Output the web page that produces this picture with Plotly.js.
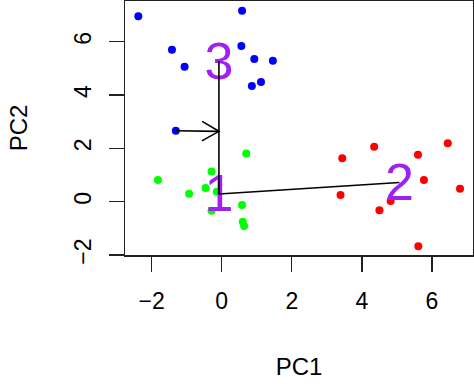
<!DOCTYPE html>
<html>
<head>
<meta charset="utf-8">
<script src="https://cdn.plot.ly/plotly-3.0.1.min.js"></script>
<style>html,body{margin:0;padding:0;background:#fff;}#chart{width:474px;height:391px;}</style>
</head>
<body>
<div id="chart"></div>
<script>
// Cluster 3 (blue)
var blueX = [-2.38, 0.58, -1.42, 0.56, 0.93, 1.46, -1.06, 0.86, 1.12, -1.31];
var blueY = [6.96, 7.16, 5.70, 5.84, 5.35, 5.29, 5.06, 4.34, 4.49, 2.66];
// Cluster 1 (green)
var greenX = [0.70, -0.29, -1.82, -0.46, -0.93, -0.14, -0.29, 0.58, 0.60, 0.64];
var greenY = [1.81, 1.13, 0.81, 0.51, 0.30, 0.37, -0.34, -0.12, -0.75, -0.91];
// Cluster 2 (red)
var redX = [6.45, 4.35, 3.44, 5.60, 5.77, 6.80, 3.39, 4.82, 4.50, 5.61];
var redY = [2.19, 2.06, 1.63, 1.76, 0.81, 0.49, 0.25, 0.03, -0.32, -1.67];
// Cluster centres and labels
var centerX = [-0.08, 5.07, -0.08];
var centerY = [0.29, 0.72, 5.27];
var centerLabels = ["1", "2", "3"];
// Arrow from a point to the segment between centres 1 and 3
var arrowFrom = [-1.31, 2.66];
var arrowTo = [-0.08, 2.64];
var xTicks = [-2, 0, 2, 4, 6];
var yTicks = [-2, 0, 2, 4, 6];

var xRange = [-2.76, 7.17], yRange = [-2.0, 7.53];
var W = 474, H = 391, mL = 125, mR = 1, mT = 1, mB = 136;
var pxX = (W - mL - mR) / (xRange[1] - xRange[0]);
var pxY = (H - mT - mB) / (yRange[1] - yRange[0]);

// open arrowhead arms (in pixel space, converted to data)
var ang = Math.atan2((arrowTo[1]-arrowFrom[1])*pxY, (arrowTo[0]-arrowFrom[0])*pxX);
var armLen = 19.5, armAng = Math.PI/6;
function arm(s){
  var a = ang + Math.PI + s*armAng;
  return [arrowTo[0] + armLen*Math.cos(a)/pxX, arrowTo[1] + armLen*Math.sin(a)/pxY];
}
var a1 = arm(1), a2 = arm(-1);
// text baseline correction: nudge labels down ~4px so glyphs centre on the centre point
var labelY = centerY.map(function(v){ return v - 4.5/pxY; });

var mk = function(c){ return {size: 8, color: c, line: {width: 0}}; };
var traces = [
  {x: blueX, y: blueY, mode: 'markers', type: 'scatter', marker: mk('#0000FF'), hoverinfo: 'none'},
  {x: greenX, y: greenY, mode: 'markers', type: 'scatter', marker: mk('#00FF00'), hoverinfo: 'none'},
  {x: redX, y: redY, mode: 'markers', type: 'scatter', marker: mk('#FF0000'), hoverinfo: 'none'},
  {x: centerX, y: labelY, mode: 'text', type: 'scatter', text: centerLabels, textposition: 'middle center',
   textfont: {family: 'Liberation Sans, Arial, sans-serif', size: 52, color: '#A020F0'}, hoverinfo: 'none'},
  {x: [centerX[0], centerX[1], null, centerX[0], centerX[2], null, arrowFrom[0], arrowTo[0], null, a1[0], arrowTo[0], a2[0]],
   y: [centerY[0], centerY[1], null, centerY[0], centerY[2], null, arrowFrom[1], arrowTo[1], null, a1[1], arrowTo[1], a2[1]],
   mode: 'lines', type: 'scatter', line: {color: '#000', width: 1.6}, hoverinfo: 'none', connectgaps: false}
];

var axFont = {family: 'Liberation Sans, Arial, sans-serif', size: 23, color: '#000'};
var titleFont = {family: 'Liberation Sans, Arial, sans-serif', size: 24, color: '#000'};
var fmt = function(v){ return v < 0 ? '\u2212' + (-v) : String(v); };
var layout = {
  width: W, height: H,
  margin: {l: mL, r: mR, t: mT, b: mB, pad: 0},
  paper_bgcolor: '#fff', plot_bgcolor: '#fff',
  showlegend: false,
  xaxis: {range: xRange, tickvals: xTicks, ticktext: xTicks.map(fmt),
          ticks: 'outside', ticklen: 15, tickwidth: 1.2, tickcolor: '#222', ticklabelstandoff: 10,
          showgrid: false, zeroline: false, showline: true, mirror: true, linecolor: '#222', linewidth: 1.5,
          tickfont: axFont, title: {text: 'PC1', font: titleFont, standoff: 45}},
  yaxis: {range: yRange, tickvals: yTicks, ticktext: yTicks.map(fmt),
          ticks: 'outside', ticklen: 15, tickwidth: 1.2, tickcolor: '#222', tickangle: -90, ticklabelstandoff: 8,
          showgrid: false, zeroline: false, showline: true, mirror: true, linecolor: '#222', linewidth: 1.5,
          tickfont: axFont, title: {text: 'PC2', font: titleFont, standoff: 36}}
};
Plotly.newPlot('chart', traces, layout, {displayModeBar: false, staticPlot: true});
</script>
</body>
</html>
